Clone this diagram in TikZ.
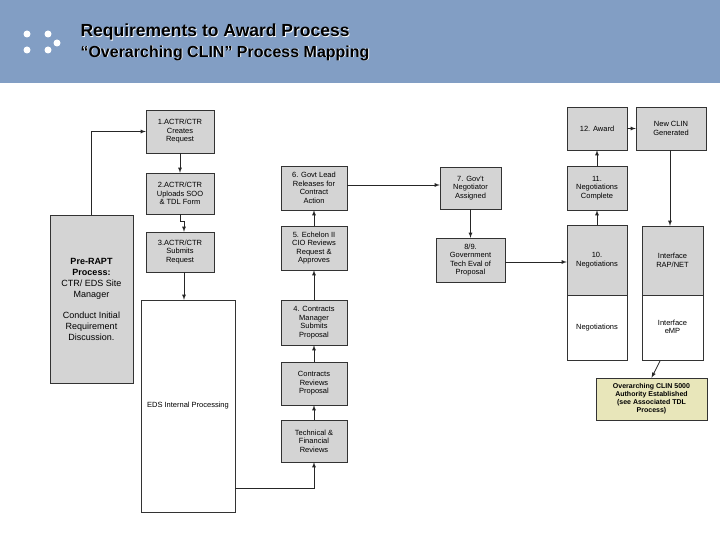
\documentclass[tikz,border=0pt]{standalone}
\usepackage{fontspec}
\setmainfont{Liberation Sans}
\begin{document}
\begin{tikzpicture}[x=1pt,y=-1pt,
 bx/.style={draw=black!80,fill=black!17,align=center,font=\fontsize{7.5}{8.5}\selectfont,inner sep=1pt},
 wb/.style={draw=black!80,fill=white,align=center,font=\fontsize{7.5}{8.5}\selectfont},
 ar/.style={-latex,thick,black!85}]
\useasboundingbox (0,0) rectangle (720,540);
\fill[fill={rgb,255:red,130;green,158;blue,196}] (0,0) rectangle (720,83);
\foreach \p in {(27,34),(48,34),(57,43),(27,50),(48,50)} \fill[white] \p circle (3.5);
\node[anchor=west,font=\bfseries\fontsize{17.5}{20}\selectfont,text=white] at (77.8,32.8) {Requirements to Award Process};
\node[anchor=west,font=\bfseries\fontsize{17.5}{20}\selectfont] (t1) at (77,32) {Requirements to Award Process};
\node[anchor=west,font=\bfseries\fontsize{16}{20}\selectfont,text=white] at (77.8,53.8) {“Overarching CLIN” Process Mapping};
\node[anchor=west,font=\bfseries\fontsize{16}{20}\selectfont] (t2) at (77,53) {“Overarching CLIN” Process Mapping};

\node[bx,minimum width=68,minimum height=43] (b1) at (180,131.5) {1.ACTR/CTR\\Creates\\Request};
\node[bx,minimum width=68,minimum height=41] (b2) at (180,193.5) {2.ACTR/CTR\\Uploads SOO\\\& TDL Form};
\node[bx,minimum width=68,minimum height=40] (b3) at (180,252) {3.ACTR/CTR\\Submits\\Request};
\node[bx,minimum width=83,minimum height=168,font=\fontsize{9}{11}\selectfont] (pre) at (91.5,299) {\textbf{Pre-RAPT}\\\textbf{Process:}\\CTR/ EDS Site\\Manager\\[10pt]Conduct Initial\\Requirement\\Discussion.};
\node[wb,minimum width=94,minimum height=212] (eds) at (188,406) {EDS Internal Processing};
\node[bx,minimum width=66,minimum height=42] (tf) at (314,441) {Technical \&\\Financial\\Reviews};
\node[bx,minimum width=66,minimum height=43] (cr) at (314,383.5) {Contracts\\Reviews\\Proposal};
\node[bx,minimum width=66,minimum height=45] (b4) at (314,322.5) {4. Contracts\\Manager\\Submits\\Proposal};
\node[bx,minimum width=66,minimum height=44] (b5) at (314,248) {5. Echelon II\\CIO Reviews\\Request \&\\Approves};
\node[bx,minimum width=66,minimum height=44] (b6) at (314,188) {6. Govt Lead\\Releases for\\Contract\\Action};
\node[bx,minimum width=61,minimum height=42] (b7) at (470.5,188) {7. Gov't\\Negotiator\\Assigned};
\node[bx,minimum width=69,minimum height=44] (b8) at (470.5,260) {8/9.\\Government\\Tech Eval of\\Proposal};
\node[wb,minimum width=60,minimum height=135,inner sep=0] (n10w) at (597,292.5) {};
\node[bx,minimum width=60,minimum height=70] (b10) at (597,260) {10.\\Negotiations};
\node[font=\fontsize{7.5}{8.5}\selectfont] (neg) at (597,328) {Negotiations};
\node[bx,minimum width=60,minimum height=44] (b11) at (597,188) {11.\\Negotiations\\Complete};
\node[bx,minimum width=60,minimum height=43] (b12) at (597,128.5) {12. Award};
\node[bx,minimum width=70,minimum height=43] (nc) at (671,128.5) {New CLIN\\Generated};
\node[wb,minimum width=61,minimum height=134,inner sep=0] (rw) at (672.5,293) {};
\node[bx,minimum width=61,minimum height=69] (rap) at (672.5,260.5) {Interface\\RAP/NET};
\node[align=center,font=\fontsize{7.5}{8.5}\selectfont] (emp) at (672.5,327) {Interface\\eMP};
\node[draw=black!80,fill={rgb,255:red,232;green,230;blue,186},minimum width=111,minimum height=42,align=center,font=\bfseries\fontsize{7}{8}\selectfont,inner sep=1pt] (oc) at (651.5,399) {Overarching CLIN 5000\\Authority Established\\(see Associated TDL\\Process)};

\draw[ar] (pre.north) |- (b1.west);
\draw[ar] (b1) -- (b2);
\draw[ar] (b2.south) -- ++(0,7) -| ([xshift=4]b3.north);
\draw[ar] ([xshift=4]b3.south) -- ([xshift=-4]eds.north);
\draw[ar] (eds.east|-0,488) -| (tf.south);
\draw[ar] (tf) -- (cr);
\draw[ar] (cr) -- (b4);
\draw[ar] (b4) -- (b5);
\draw[ar] (b5) -- (b6);
\draw[ar] (b6.east|-0,185) -- (b7.west|-0,185);
\draw[ar] (b7) -- (b8);
\draw[ar] (b8.east|-0,262) -- (b10.west|-0,262);
\draw[ar] (b10) -- (b11);
\draw[ar] (b11) -- (b12);
\draw[ar] (b12) -- (nc);
\draw[ar] (nc.south-|670,0) -- (rap.north-|670,0);
\draw[ar] (660,361) -- (oc.north);
\end{tikzpicture}
\end{document}
